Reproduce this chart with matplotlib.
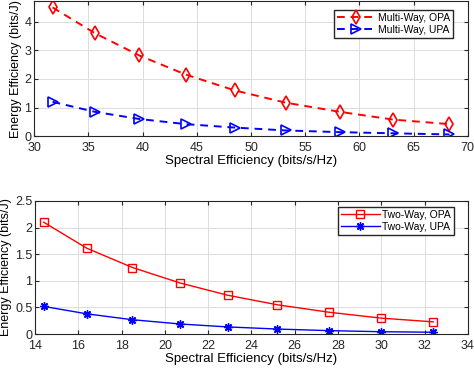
import matplotlib.pyplot as plt

plt.rcParams['font.family'] = ['Liberation Sans', 'DejaVu Sans']

# multi-way (top panel)
mw_se = [31.7, 35.6, 39.7, 44.0, 48.5, 53.2, 58.2, 63.1, 68.3]
mw_opa = [4.5, 3.6, 2.82, 2.15, 1.6, 1.17, 0.85, 0.58, 0.42]
mw_upa = [1.2, 0.85, 0.6, 0.42, 0.3, 0.2, 0.14, 0.1, 0.06]

# two-way (bottom panel)
tw_se = [14.4, 16.4, 18.5, 20.7, 22.9, 25.2, 27.6, 30.0, 32.4]
tw_opa = [2.1, 1.61, 1.25, 0.96, 0.73, 0.55, 0.41, 0.30, 0.23]
tw_upa = [0.52, 0.38, 0.27, 0.19, 0.135, 0.095, 0.065, 0.045, 0.035]

top_xticks = [30, 35, 40, 45, 50, 55, 60, 65, 70]
top_yticks = [0, 1, 2, 3, 4]
bot_xticks = [14, 16, 18, 20, 22, 24, 26, 28, 30, 32, 34]
bot_yticks = [0, 0.5, 1, 1.5, 2, 2.5]
bot_ylabels = ['0', '0.5', '1', '1.5', '2', '2.5']

fig = plt.figure(figsize=(4.74, 3.70), dpi=100)
ax1 = fig.add_axes([0.072, 0.632, 0.915, 0.365])
ax2 = fig.add_axes([0.074, 0.097, 0.913, 0.360])


def style(ax):
    ax.grid(True, color='#dcdcdc', linewidth=0.7)
    ax.set_axisbelow(True)
    ax.tick_params(direction='in', length=3, labelsize=9, colors='#262626',
                   top=True, right=True)
    ax.tick_params(axis='x', pad=4)
    ax.tick_params(axis='y', pad=2)
    for s in ax.spines.values():
        s.set_color('#262626')
        s.set_linewidth(0.8)


def add_legend(ax, anchor):
    ax.legend(loc='upper right', fontsize=7.5, handlelength=3.7, frameon=True,
              fancybox=False, edgecolor='#262626', framealpha=1,
              borderpad=0.3, labelspacing=0.2, handletextpad=0.2,
              borderaxespad=0, bbox_to_anchor=anchor)


ax1.plot(mw_se, mw_opa, '--', color='red', lw=1.4, marker='d', ms=7,
         mfc='none', mew=1.2, dashes=(4, 3), label='Multi-Way, OPA')
ax1.plot(mw_se, mw_upa, '--', color='blue', lw=1.4, marker='>', ms=7,
         mfc='none', mew=1.2, dashes=(4, 3), label='Multi-Way, UPA')
ax1.set_xlim(30, 70)
ax1.set_ylim(0, 4.72)
ax1.set_xticks(top_xticks)
ax1.set_yticks(top_yticks)
ax1.set_xlabel('Spectral Efficiency (bits/s/Hz)', fontsize=9.5, labelpad=1)
ax1.set_ylabel('Energy Efficiency (bits/J)', fontsize=9, labelpad=2)
style(ax1)
add_legend(ax1, (0.966, 0.935))

ax2.plot(tw_se, tw_opa, '-', color='red', lw=1.0, marker='s', ms=6,
         mfc='none', mew=1.0, label='Two-Way, OPA')
ax2.plot(tw_se, tw_upa, '-', color='blue', lw=1.0, marker=(8, 2, 0), ms=6,
         mew=1.0, label='Two-Way, UPA')
ax2.set_xlim(14, 34)
ax2.set_ylim(0, 2.5)
ax2.set_xticks(bot_xticks)
ax2.set_yticks(bot_yticks)
ax2.set_yticklabels(bot_ylabels)
ax2.set_xlabel('Spectral Efficiency (bits/s/Hz)', fontsize=9.5, labelpad=1)
ax2.set_ylabel('Energy Efficiency (bits/J)', fontsize=9, labelpad=2)
style(ax2)
add_legend(ax2, (0.967, 0.955))

fig.savefig('out.png', dpi=100)
